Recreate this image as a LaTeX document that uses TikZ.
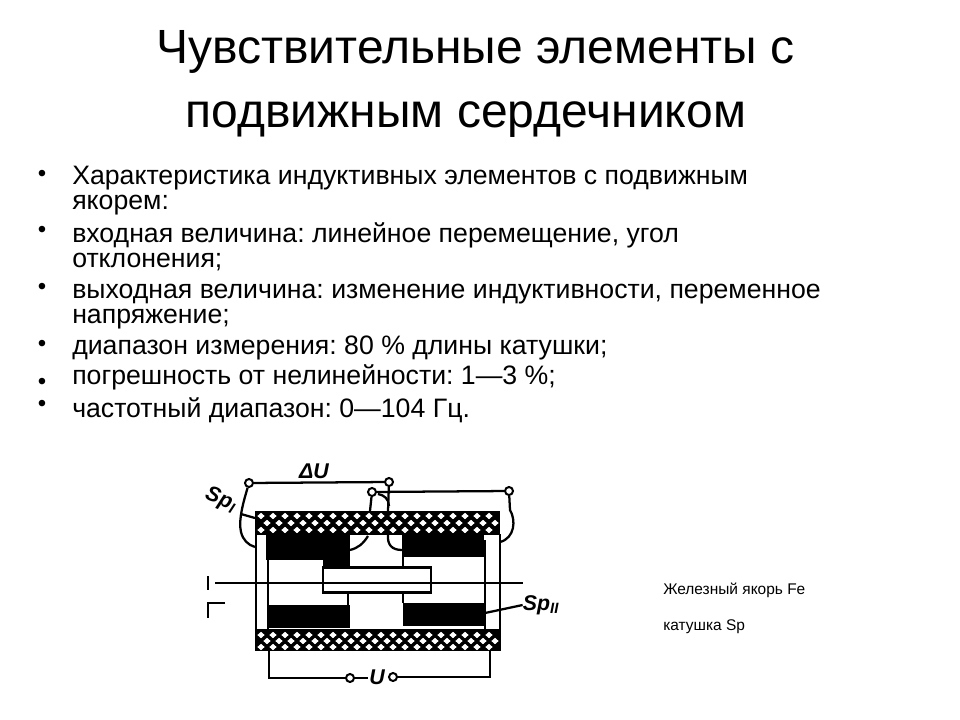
\documentclass[tikz,border=0pt]{standalone}
\usepackage{fontspec}
\setmainfont{Liberation Sans}
\usetikzlibrary{positioning}
\begin{document}
\frenchspacing
\begin{tikzpicture}[x=0.75pt,y=-0.75pt,
  title node/.style={font=\fontsize{36}{48}\selectfont,inner sep=0pt},
  item node/.style={font=\fontsize{20}{19}\selectfont,inner sep=0pt,align=left,anchor=north west},
  dot node/.style={font=\fontsize{18}{19}\selectfont,inner sep=0pt},
  note node/.style={font=\fontsize{11.6}{13}\selectfont,inner sep=0pt,anchor=west},
  mark node/.style={font=\bfseries\itshape\fontsize{16}{17}\selectfont,inner sep=0pt},
  terminal/.style={circle,draw,fill=white,line width=1.5pt,inner sep=0pt,minimum size=6pt},
  wire/.style={line width=1.7pt},
  wall/.style={line width=2.1pt},
  core/.style={draw,fill=white,line width=2.1pt}]
  \useasboundingbox (0,0) rectangle (960,720);
  \fill[white] (0,0) rectangle (960,720);

  \node[title node] (title1) at (475.5,52) {Чувствительные элементы с};
  \node[title node] (title2) at (466,120) {подвижным сердечником};

  \node[item node] (b1) at (72,166) {Характеристика индуктивных элементов с подвижным\\якорем:};
  \node[item node] (b2) at (72,222) {входная величина: линейное перемещение, угол\\отклонения;};
  \node[item node] (b3) at (72,284) {выходная величина: изменение индуктивности, переменное\\напряжение;};
  \node[item node] (b4) at (72,336) {диапазон измерения: 80 \% длины катушки;};
  \node[item node] (b5) at (72,364) {погрешность от нелинейности: 1—3 \%;};
  \node[item node] (b6) at (72,397) {частотный диапазон: 0—104 Гц.};
  \foreach \n/\y in {1/176,2/232,3/289,4/346,5/384,6/406}
    \node[dot node] (d\n) at (42,\y) {•};

  \node[note node] (fe) at (663,590) {Железный якорь Fe};
  \node[note node] (sp) at (663,627) {катушка Sp};

  % coils
  \fill (266,534) rectangle (350,560);
  \fill (323,560) rectangle (350,566);
  \fill (402,534) rectangle (484,557);
  \fill (268,605) rectangle (350,628);
  \fill (403,603) rectangle (485,626);

  % winding bands
  \fill (255,511) rectangle (500,535);
  \fill (255,629) rectangle (501,651);
  \foreach \y/\s in {516/0,523/6,530/0,635/0,641/6,647/0}
    \foreach \x in {261,273,...,495}
      \fill[white] (\x+\s,\y-3.2) -- (\x+\s+3.6,\y) -- (\x+\s,\y+3.2) -- (\x+\s-3.6,\y) -- cycle;

  % walls
  \draw[wall] (256,534) -- (256,630);
  \draw[wall] (268,545) -- (268,630);
  \draw[wall] (485,540) -- (485,630);
  \draw[wall] (500,534) -- (500,630);

  % core
  \draw[wall] (348,593) -- (348,605);
  \draw[wall] (403,557) -- (403,567);
  \draw[wall] (403,593) -- (403,603);
  \node[core,minimum width=81pt,minimum height=19pt,inner sep=0pt] (fecore) at (377,580) {};
  \draw[wall] (208,576) -- (208,590);
  \draw[wall] (225,603) -- (208,603) -- (208,618);
  \coordinate (axisl) at (215,583);
  \coordinate (axisr) at (523,583);
  \draw[line width=1.4pt] (axisl) -- (axisr);

  % terminals and wires
  \node[terminal] (ta) at (249,483) {};
  \node[terminal] (tb) at (389,482) {};
  \node[terminal] (tc) at (372,492) {};
  \node[terminal] (td) at (509,491) {};
  \node[terminal] (te) at (350,678) {};
  \node[terminal] (tf) at (393,677) {};
  \coordinate (ja) at (255,547);
  \coordinate (jb) at (402,550);
  \coordinate (jc) at (350,550);
  \coordinate (jd) at (500,542);
  \coordinate (je) at (269,651);
  \coordinate (jf) at (490,651);
  \coordinate (jg) at (255,518);
  \path[wire]
    (ta) edge (tb)
    (tc) edge (td)
    (tc) edge (370,511)
    (tb) edge (388,511);
  \draw[wire] (ta) .. controls (244,500) and (238,520) .. (241,532) .. controls (243,540) and (248,545) .. (ja);
  \draw[wire] (241,514) -- (jg);
  \draw[wire] (378,494) .. controls (384,495) and (389,499) .. (389,506);
  \draw[wire] (388,534) .. controls (387,545) and (392,550) .. (jb);
  \draw[wire] (368,536) .. controls (363,544) and (358,548) .. (jc);
  \draw[wire] (td) -- (510,510) .. controls (516,520) and (515,538) .. (jd);
  \draw[wire] (je) -- (269,678) -- (te);
  \draw[wire] (tf) -| (jf);
  \coordinate (dashr) at (368,678);
  \draw[wire] (te) -- (dashr);

  % labels
  \node[mark node] (du) at (314,471) {ΔU};
  \node[mark node,rotate=-22] (sp1) at (221,500) {Sp\textsubscript{I}};
  \node[mark node] (sp2) at (541,605) {Sp\textsubscript{II}};
  \node[mark node] (uu) at (377,677) {U};
  \coordinate (lead) at (485,613);
  \draw[wire] (lead) -- (sp2.west);
\end{tikzpicture}
\end{document}
